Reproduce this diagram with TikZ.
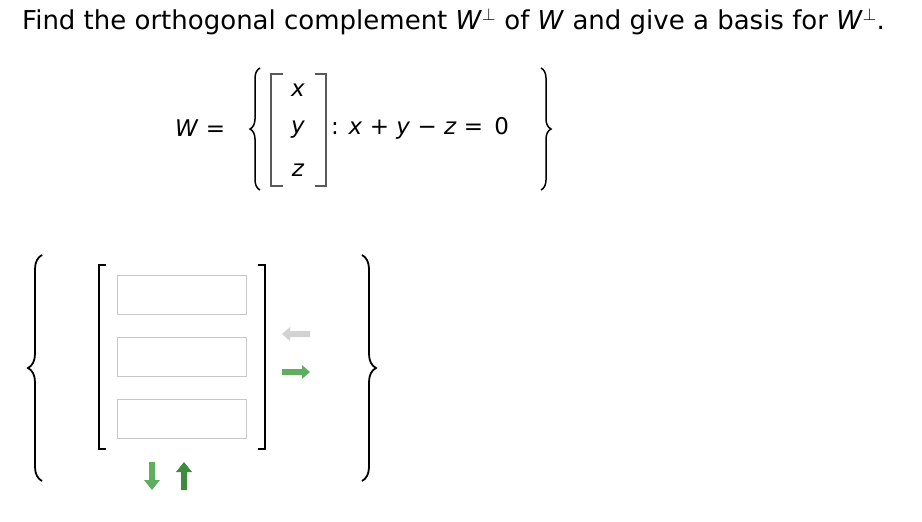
\documentclass[tikz,border=0pt]{standalone}
\usepackage{fontspec}
\setmainfont{DejaVu Sans}
\usetikzlibrary{decorations.pathreplacing}
\definecolor{gbox}{HTML}{C8C8C8}
\definecolor{garr}{HTML}{5FAE5F}
\definecolor{garrd}{HTML}{3E8A3E}
\begin{document}
\begin{tikzpicture}[x=1pt,y=-1pt,
  txt/.style={inner sep=0pt,font=\fontsize{26}{30}\selectfont},
  ftxt/.style={inner sep=0pt,font=\fontsize{23}{26}\selectfont},
  ibox/.style={draw=gbox,line width=1pt,minimum width=129pt,minimum height=39pt,inner sep=0pt},
  brk/.style={line width=1.6pt},
  brc/.style={decorate,decoration={brace,amplitude=10pt},line width=1.4pt}]
\useasboundingbox (0,0) rectangle (922,522);
\node[txt,anchor=west] (title) at (22,22) {Find the orthogonal complement \textit{W}$^{\perp}$ of \textit{W} and give a basis for \textit{W}$^{\perp}$.};
% top set
\node[ftxt,anchor=west] (W) at (175,128) {\textit{W} =};
\draw[brc,line width=1.5pt] (260,190) -- (260,68);
\draw[line width=1.2pt,gray!70!black] (283,74)--(271,74)--(271,186)--(283,186);
\draw[line width=1.2pt,gray!70!black] (315,74)--(326,74)--(326,186)--(315,186);
\node[ftxt] (x) at (298,90) {\textit{x}};
\node[ftxt] (y) at (298,130) {\textit{y}};
\node[ftxt] (z) at (298,170) {\textit{z}};
\node[ftxt,anchor=west] (cond) at (331,128) {: \textit{x} + \textit{y} − \textit{z} = \,0};
\draw[brc,line width=1.5pt] (541,68) -- (541,190);
% bottom
\draw[brc,line width=1.8pt,decoration={amplitude=14pt}] (42,481) -- (42,255);
\draw[brc,line width=1.8pt,decoration={amplitude=14pt}] (362,255) -- (362,481);
\draw[brk] (106,265)--(99,265)--(99,449)--(106,449);
\draw[brk] (258,265)--(265,265)--(265,449)--(258,449);
\node[ibox] (b1) at (181.5,295) {};
\node[ibox] (b2) at (181.5,357) {};
\node[ibox] (b3) at (181.5,419) {};
% arrows
\fill[gray!35] (282,334)--(290,327)--(290,331)--(310,331)--(310,337)--(290,337)--(290,341)--cycle;
\fill[garr] (310,372)--(302,365)--(302,369)--(282,369)--(282,375)--(302,375)--(302,379)--cycle;
\fill[garr] (152,490)--(144,480)--(149,480)--(149,462)--(155,462)--(155,480)--(160,480)--cycle;
\fill[garrd] (184,462)--(176,472)--(181,472)--(181,490)--(187,490)--(187,472)--(192,472)--cycle;
\end{tikzpicture}
\end{document}
